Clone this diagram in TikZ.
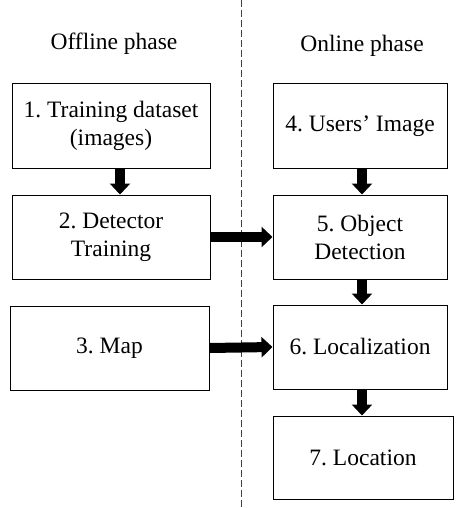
\documentclass[tikz,border=0pt]{standalone}
\usepackage{fontspec}
\setmainfont{Liberation Serif}
\usetikzlibrary{arrows.meta}
\frenchspacing

\begin{document}
\begin{tikzpicture}[x=1pt,y=-1pt,
    box/.style={draw,line width=1pt,minimum width=198pt,minimum height=84pt,
      inner sep=0pt,align=center,font=\fontsize{23.5}{28}\selectfont},
    flow/.style={line width=10pt,-{Triangle[length=11pt,width=20pt]}}]
      \useasboundingbox (0,0) rectangle (458,508) ;
      \coordinate (T) at (241,0) ;
      \coordinate (B) at (241,508) ;
      \draw[gray!50!black,line width=0.8pt,dash pattern=on 7pt off 3pt] (T)--(B) ;
      \node[anchor=base,font=\fontsize{23.5}{28}\selectfont] (H1) at (114,50) {Offline phase} ;
      \node[anchor=base,font=\fontsize{23.5}{28}\selectfont] (H2) at (362,52) {Online phase} ;
      \node[box] (B1) at (111,126) {1. Training dataset\\(images)} ;
      \node[box] (B2) at (111,237) {2. Detector\\Training} ;
      \node[box,minimum width=199pt] (B3) at (109.5,348) {3. Map} ;
      \node[box,minimum width=174pt] (B4) at (360,126) {4. Users’ Image} ;
      \node[box,minimum width=174pt] (B5) at (360,237) {5. Object\\Detection} ;
      \node[box,minimum width=174pt] (B6) at (360,347) {6. Localization} ;
      \node[box,minimum width=180pt,minimum height=83pt] (B7) at (363,457.5) {7. Location} ;
      \draw[flow] ([xshift=9pt]B1.south)--([xshift=9pt]B2.north) ;
      \draw[flow] ([xshift=2pt]B4.south)--([xshift=2pt]B5.north) ;
      \draw[flow] ([xshift=2pt]B5.south)--([xshift=2pt]B6.north) ;
      \draw[flow] ([xshift=2pt]B6.south)--([xshift=-1pt]B7.north) ;
      \draw[flow] (B2.east)--(B5.west) ;
      \draw[flow] (B3.east)--(B6.west) ;
    \end{tikzpicture}
\end{document}
